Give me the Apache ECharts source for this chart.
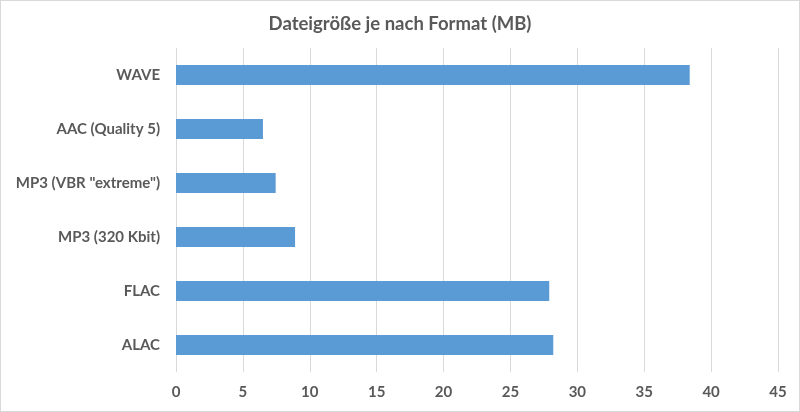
<!DOCTYPE html>
<html>
<head>
<meta charset="utf-8">
<script src="https://cdn.jsdelivr.net/npm/echarts@6/dist/echarts.min.js"></script>
<style>
    html, body { margin: 0; padding: 0; background: #fff; }
    #main { width: 798px; height: 410px; border: 1px solid #d9d9d9; }
</style>
</head>
<body>
<div id="main"></div>
<script>
    // Kategorien von unten nach oben
    let formats = ['ALAC', 'FLAC', 'MP3 (320 Kbit)', 'MP3 (VBR "extreme")', 'AAC (Quality 5)', 'WAVE'];
    let sizes = [28.2, 27.9, 8.9, 7.45, 6.5, 38.4];
    let xTicks = [0, 45, 5]; // min, max, interval

    let chart = echarts.init(document.getElementById('main'));
    let option = {
        animation: false,
        title: {
            text: 'Dateigröße je nach Format (MB)',
            left: 'center',
            top: 9,
            textStyle: {
                color: '#595959',
                fontFamily: 'Lato',
                fontSize: 18.5,
                fontWeight: 'bold'
            }
        },
        grid: {
            left: 175,
            right: 21,
            top: 47,
            bottom: 39
        },
        xAxis: {
            type: 'value',
            min: xTicks[0],
            max: xTicks[1],
            interval: xTicks[2],
            axisLine: { show: false },
            axisTick: { show: false },
            splitLine: { lineStyle: { color: '#d9d9d9', width: 1 } },
            axisLabel: {
                color: '#595959',
                fontFamily: 'Lato',
                fontSize: 15,
                fontWeight: 'bold',
                margin: 13
            }
        },
        yAxis: {
            type: 'category',
            data: formats,
            axisLine: { show: false },
            axisTick: { show: false },
            splitLine: { show: false },
            axisLabel: {
                color: '#595959',
                fontFamily: 'Lato',
                fontSize: 15,
                fontWeight: 'bold',
                margin: 16
            }
        },
        series: [{
            name: 'MB',
            type: 'bar',
            data: sizes,
            barWidth: 20,
            itemStyle: { color: '#5b9bd5' }
        }]
    };
    chart.setOption(option);
    window.onresize = chart.resize;
</script>
</body>
</html>
